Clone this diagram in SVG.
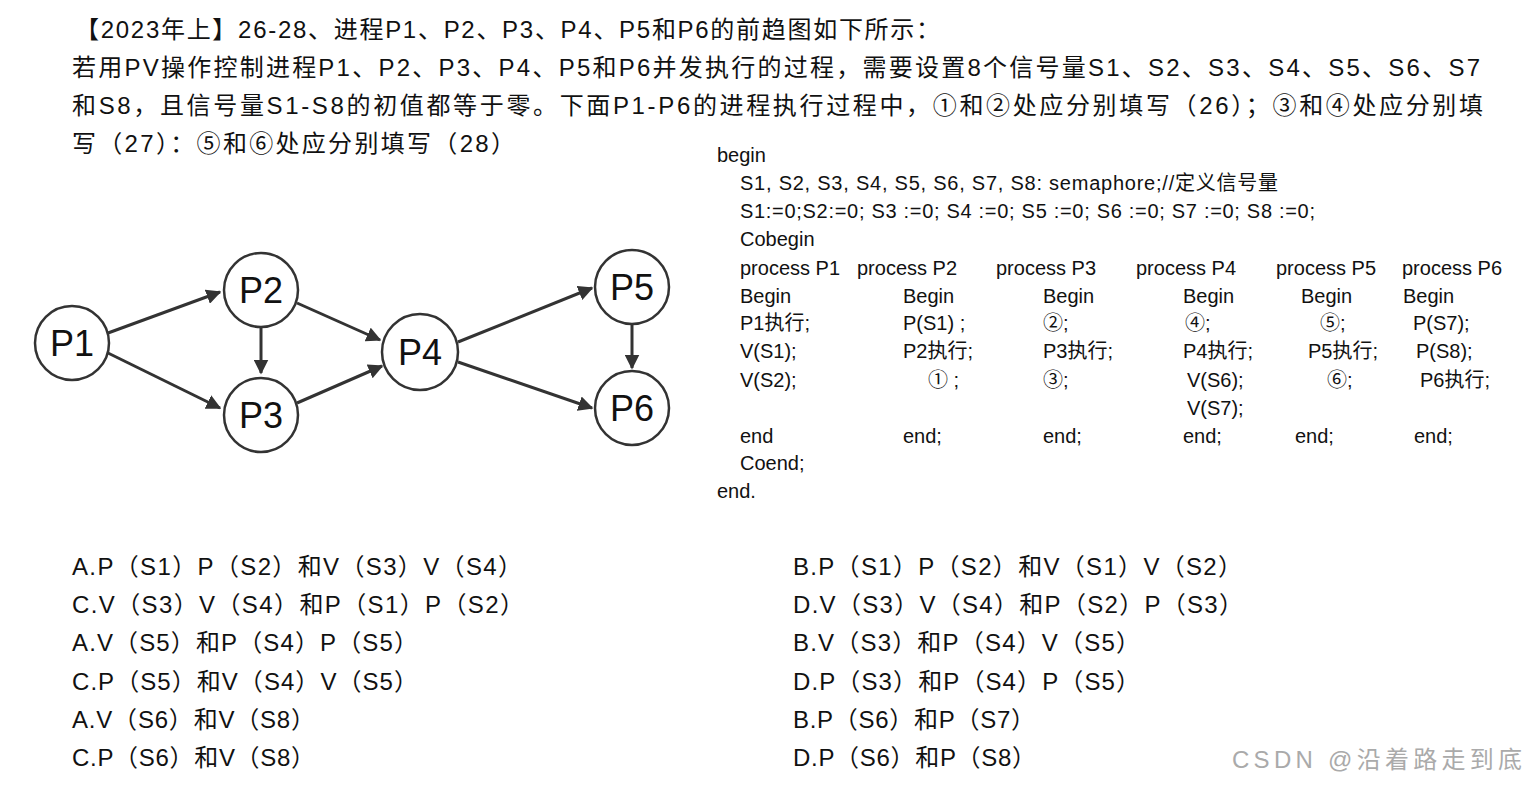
<svg xmlns="http://www.w3.org/2000/svg" width="1526" height="785" viewBox="0 0 1526 785">
<style>
text{font-family:"Liberation Sans","Noto Sans CJK SC",sans-serif;fill:#111}
.t{font-size:24px}
.c{font-size:20px}
.n{font-size:36px;text-anchor:middle}
circle{fill:#fff;stroke:#333;stroke-width:2.5}
.e{stroke:#333;stroke-width:3;fill:none;marker-end:url(#a)}
</style>
<defs><marker id="a" viewBox="0 0 10 10" refX="9" refY="5" markerWidth="5" markerHeight="5" orient="auto"><path d="M0,0L10,5L0,10z" fill="#333"/></marker></defs>
<rect width="1526" height="785" fill="#fff"/>
<text class="t" x="75" y="38" textLength="865" lengthAdjust="spacing">【2023年上】26-28、进程P1、P2、P3、P4、P5和P6的前趋图如下所示：</text>
<text class="t" x="72" y="76" textLength="1408" lengthAdjust="spacing">若用PV操作控制进程P1、P2、P3、P4、P5和P6并发执行的过程，需要设置8个信号量S1、S2、S3、S4、S5、S6、S7</text>
<text class="t" x="72" y="114" textLength="1411" lengthAdjust="spacing">和S8，且信号量S1-S8的初值都等于零。下面P1-P6的进程执行过程中，①和②处应分别填写（26）；③和④处应分别填</text>
<text class="t" x="72" y="152" textLength="443" lengthAdjust="spacing">写（27）：⑤和⑥处应分别填写（28）</text>
<g id="connectors">
<path class="e" d="M108,333L220,292"/>
<path class="e" d="M108,353L220,408"/>
<path class="e" d="M261,328L261,373"/>
<path class="e" d="M297,303L380,340"/>
<path class="e" d="M297,403L382,366"/>
<path class="e" d="M458,342L592,288"/>
<path class="e" d="M458,362L592,408"/>
<path class="e" d="M632,325L632,368"/>
</g>
<g id="P1"><circle cx="72" cy="343" r="37"/><text class="n" x="72" y="356">P1</text></g>
<g id="P2"><circle cx="261" cy="290" r="37"/><text class="n" x="261" y="303">P2</text></g>
<g id="P3"><circle cx="261" cy="415" r="37"/><text class="n" x="261" y="428">P3</text></g>
<g id="P4"><circle cx="420" cy="352" r="38"/><text class="n" x="420" y="365">P4</text></g>
<g id="P5"><circle cx="632" cy="287" r="37"/><text class="n" x="632" y="300">P5</text></g>
<g id="P6"><circle cx="632" cy="408" r="37"/><text class="n" x="632" y="421">P6</text></g>
<g id="code">
<text class="c" x="717" y="162">begin</text>
<text class="c" x="740" y="190" textLength="538" lengthAdjust="spacing">S1, S2, S3, S4, S5, S6, S7, S8: semaphore;//定义信号量</text>
<text class="c" x="740" y="218" textLength="575" lengthAdjust="spacing">S1:=0;S2:=0; S3 :=0; S4 :=0; S5 :=0; S6 :=0; S7 :=0; S8 :=0;</text>
<text class="c" x="740" y="246">Cobegin</text>
<text class="c" x="740" y="275">process P1</text><text class="c" x="857" y="275">process P2</text><text class="c" x="996" y="275">process P3</text><text class="c" x="1136" y="275">process P4</text><text class="c" x="1276" y="275">process P5</text><text class="c" x="1402" y="275">process P6</text>
<text class="c" x="740" y="303">Begin</text><text class="c" x="903" y="303">Begin</text><text class="c" x="1043" y="303">Begin</text><text class="c" x="1183" y="303">Begin</text><text class="c" x="1301" y="303">Begin</text><text class="c" x="1403" y="303">Begin</text>
<text class="c" x="740" y="330">P1执行;</text><text class="c" x="903" y="330">P(S1) ;</text><text class="c" x="1043" y="330">②;</text><text class="c" x="1185" y="330">④;</text><text class="c" x="1320" y="330">⑤;</text><text class="c" x="1413" y="330">P(S7);</text>
<text class="c" x="740" y="358">V(S1);</text><text class="c" x="903" y="358">P2执行;</text><text class="c" x="1043" y="358">P3执行;</text><text class="c" x="1183" y="358">P4执行;</text><text class="c" x="1308" y="358">P5执行;</text><text class="c" x="1416" y="358">P(S8);</text>
<text class="c" x="740" y="387">V(S2);</text><text class="c" x="928" y="387">①  ;</text><text class="c" x="1043" y="387">③;</text><text class="c" x="1187" y="387">V(S6);</text><text class="c" x="1327" y="387">⑥;</text><text class="c" x="1420" y="387">P6执行;</text>
<text class="c" x="1187" y="415">V(S7);</text>
<text class="c" x="740" y="443">end</text><text class="c" x="903" y="443">end;</text><text class="c" x="1043" y="443">end;</text><text class="c" x="1183" y="443">end;</text><text class="c" x="1295" y="443">end;</text><text class="c" x="1414" y="443">end;</text>
<text class="c" x="740" y="470">Coend;</text>
<text class="c" x="717" y="498">end.</text>
</g>
<g id="options">
<text class="t" x="72" y="575" textLength="450" lengthAdjust="spacing">A.P（S1）P（S2）和V（S3）V（S4）</text>
<text class="t" x="72" y="613" textLength="452" lengthAdjust="spacing">C.V（S3）V（S4）和P（S1）P（S2）</text>
<text class="t" x="72" y="651" textLength="346" lengthAdjust="spacing">A.V（S5）和P（S4）P（S5）</text>
<text class="t" x="72" y="690" textLength="346" lengthAdjust="spacing">C.P（S5）和V（S4）V（S5）</text>
<text class="t" x="72" y="728" textLength="243" lengthAdjust="spacing">A.V（S6）和V（S8）</text>
<text class="t" x="72" y="766" textLength="243" lengthAdjust="spacing">C.P（S6）和V（S8）</text>
<text class="t" x="793" y="575" textLength="449" lengthAdjust="spacing">B.P（S1）P（S2）和V（S1）V（S2）</text>
<text class="t" x="793" y="613" textLength="450" lengthAdjust="spacing">D.V（S3）V（S4）和P（S2）P（S3）</text>
<text class="t" x="793" y="651" textLength="347" lengthAdjust="spacing">B.V（S3）和P（S4）V（S5）</text>
<text class="t" x="793" y="690" textLength="347" lengthAdjust="spacing">D.P（S3）和P（S4）P（S5）</text>
<text class="t" x="793" y="728" textLength="242" lengthAdjust="spacing">B.P（S6）和P（S7）</text>
<text class="t" x="793" y="766" textLength="243" lengthAdjust="spacing">D.P（S6）和P（S8）</text>
</g>
<text x="1232" y="768" textLength="290" lengthAdjust="spacing" style="font-size:24px;fill:#aaa">CSDN @沿着路走到底</text>
</svg>
